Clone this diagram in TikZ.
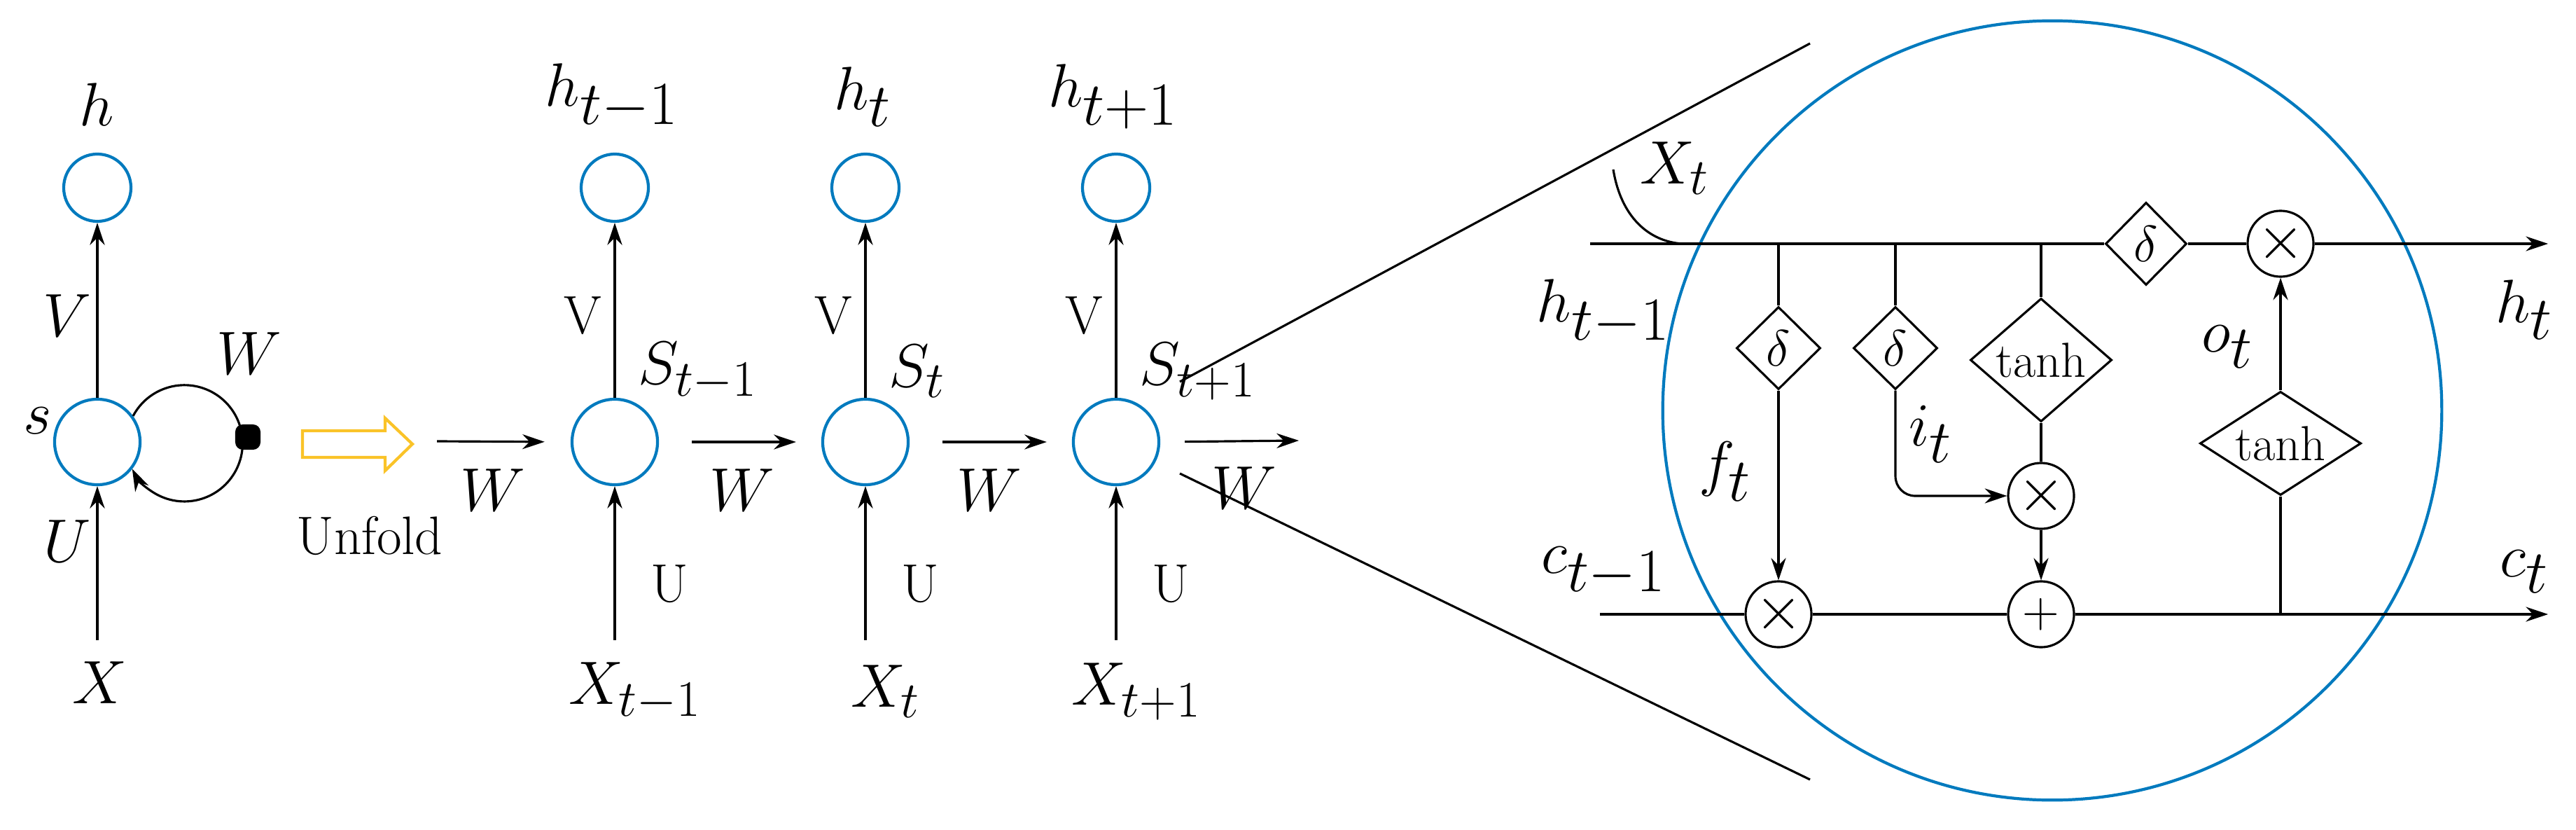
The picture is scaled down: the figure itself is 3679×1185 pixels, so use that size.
\documentclass[tikz,border=0pt]{standalone}
\usetikzlibrary{shapes.geometric,arrows.meta}
\definecolor{cblue}{RGB}{0,122,190}
\definecolor{cyel}{RGB}{250,195,40}
\begin{document}
\begin{tikzpicture}[x=0.01cm,y=-0.01cm,line width=0.9pt,
  >={Stealth[length=9pt,width=6pt]},
  rn/.style={circle,draw=cblue,line width=1.2pt,minimum size=1.22cm,inner sep=0},
  hn/.style={circle,draw=cblue,line width=1.2pt,minimum size=0.96cm,inner sep=0},
  big/.style={font=\fontsize{40}{40}\selectfont},
  mid/.style={font=\fontsize{30}{30}\selectfont},
  lab/.style={font=\fontsize{22}{22}\selectfont},
  op/.style={circle,draw,minimum size=0.94cm,inner sep=0,font=\fontsize{26}{26}\selectfont},
  dm/.style={diamond,draw,inner sep=0pt,font=\fontsize{20}{20}\selectfont}]
\useasboundingbox (0,0) rectangle (3679,1185);
% folded RNN
\node[rn] (s) at (139,631) {};
\node[hn] (h) at (139,268) {};
\node[big] (hl) at (138,149) {$h$};
\node[mid] (sl) at (54,601) {$s$};
\node[mid] (Vl) at (96,451) {$V$};
\node[mid] (Ul) at (96,773) {$U$};
\node[mid] (Xl) at (142,975) {$X$};
\coordinate (xin) at (139,914);
\draw[->] (s.north) -- (h.south);
\draw[->] (xin) -- (s.south);
\draw[->] (s.36) arc[start angle=152,end angle=-154,radius=0.83cm];
\node[fill=black,rounded corners=3pt,minimum size=0.36cm,inner sep=0] (blk) at (354,624) {};
\node[mid] (Wl) at (356,505) {$W$};
% unfold arrow
\draw[cyel,line width=1.2pt] (432,615) -- (550,615) -- (550,597) -- (589,634) -- (550,672) -- (550,653) -- (432,653) -- cycle;
\node[lab] (unf) at (528,765) {Unfold};
% unfolded
\coordinate (w0) at (624,630);
\foreach \i/\x/\s in {a/878/{t-1},b/1236/{t},c/1594/{t+1}}{
  \node[rn] (c\i) at (\x,631) {};
  \node[hn] (h\i) at (\x,268) {};
  \node[big] at (\x-4,138) {$h_{\s}$};
  \node[lab] at (\x-46,451) {V};
  \node[mid,anchor=west] at (\x+20,530) {$S_{\s}$};
  \node[lab] at (\x+78,834) {U};
  \node[mid] at (\x+29,987) {$X_{\s}$};
  \coordinate (x\i) at (\x,914);
  \draw[->] (c\i.north) -- (h\i.south);
  \draw[->] (x\i) -- (c\i.south);
}
\coordinate (wend) at (1855,629);
\draw[->,shorten >=0.37cm] (w0) -- (ca.west);
\draw[->,shorten <=0.47cm,shorten >=0.36cm] (ca.east) -- (cb.west);
\draw[->,shorten <=0.47cm,shorten >=0.36cm] (cb.east) -- (cc.west);
\draw[->,shorten <=0.35cm] (cc.east) -- (wend);
\node[mid] at (704,700) {$W$};
\node[mid] at (1060,700) {$W$};
\node[mid] at (1413,700) {$W$};
\node[mid] at (1777,697) {$W$};
% cone
\coordinate (k1) at (1685,545); \coordinate (k2) at (2585,62);
\coordinate (k3) at (1685,676); \coordinate (k4) at (2585,1113);
\draw (k1) -- (k2); \draw (k3) -- (k4);
\node[circle,draw=cblue,line width=1.2pt,minimum size=11.12cm,inner sep=0] (cell) at (2931,586) {};
% LSTM
\coordinate (hin) at (2271,348); \coordinate (hout) at (3639,348);
\coordinate (cin) at (2285,877); \coordinate (cout) at (3639,877);
\node[dm,minimum width=1.2cm,minimum height=1.18cm] (df) at (2540,497) {$\delta$};
\node[dm,minimum width=1.2cm,minimum height=1.18cm] (di) at (2707,497) {$\delta$};
\node[dm,shape aspect=1.15,minimum width=2.02cm,minimum height=1.76cm] (tg) at (2915,514) {tanh};
\node[dm,minimum width=1.16cm,minimum height=1.18cm] (do) at (3065,348) {$\delta$};
\node[op] (mo) at (3257,348) {$\times$};
\node[dm,shape aspect=1.55,minimum width=2.3cm,minimum height=1.48cm] (tc) at (3257,633) {tanh};
\node[op] (mi) at (2915,708) {$\times$};
\node[op] (mf) at (2540,877) {$\times$};
\node[op,font=\fontsize{20}{20}\selectfont] (pl) at (2915,877) {$+$};
\coordinate (jf) at (2540,348); \coordinate (ji) at (2707,348); \coordinate (jg) at (2915,348);
\coordinate (jc) at (3257,877); \coordinate (ic) at (2707,708);
\draw (hin) -- (do.west);
\draw (do.east) -- (mo.west);
\draw[->] (mo.east) -- (hout);
\draw (cin) -- (mf.west);
\draw (mf.east) -- (pl.west);
\draw[->] (pl.east) -- (cout);
\draw (jf) -- (df.north); \draw[->] (df.south) -- (mf.north);
\draw (ji) -- (di.north); \draw[->,rounded corners=8pt] (di.south) -- (ic) -- (mi.west);
\draw (jg) -- (tg.north); \draw (tg.south) -- (mi.north); \draw[->] (mi.south) -- (pl.north);
\draw (jc) -- (tc.south); \draw[->] (tc.north) -- (mo.south);
\coordinate (xt) at (2304,242);
\draw (xt) .. controls (2315,310) and (2355,345) .. (2403,348);
\node[mid] at (2392,240) {$X_t$};
\node[big] at (2290,446) {$h_{t-1}$};
\node[big] at (2290,816) {$c_{t-1}$};
\node[big] at (3605,442) {$h_t$};
\node[big] at (3605,816) {$c_t$};
\node[big] at (3181,495) {$o_t$};
\node[big] at (2464,673) {$f_t$};
\node[big] at (2757,620) {$i_t$};
\end{tikzpicture}
\end{document}
